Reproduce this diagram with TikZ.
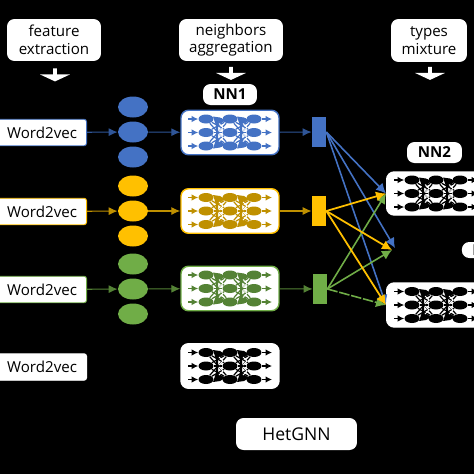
\documentclass[tikz,border=0pt]{standalone}
\usepackage{fontspec}
\setmainfont{Open Sans}
\usepackage{tikz}
\usetikzlibrary{arrows.meta,shapes.arrows,shapes.geometric}

\definecolor{hetblue}{HTML}{4472C4}
\definecolor{hetyellow}{HTML}{FFC000}
\definecolor{hetgreen}{HTML}{70AD47}
\definecolor{darkblue}{HTML}{2F5597}
\definecolor{darkyellow}{HTML}{BF9000}
\definecolor{darkgreen}{HTML}{548235}

\tikzset{
    x=0.02cm, y=-0.02cm,
    textbox/.style={draw=none,fill=white,rounded corners=1.5mm,align=center,font=\fontsize{8.6}{10}\selectfont,inner sep=0pt},
    labelbox/.style={textbox,font=\fontsize{8.6}{10}\selectfont\bfseries},
    wordbox/.style={textbox,rounded corners=0.5mm,draw=#1,line width=0.5pt,minimum width=1.9cm,minimum height=0.53cm,anchor=east},
    modbox/.style={draw=#1,fill=white,rounded corners=1.5mm,line width=0.8pt,minimum width=1.96cm,minimum height=0.89cm,inner sep=0pt},
    embed/.style={draw=none,fill=#1,ellipse,minimum width=0.6cm,minimum height=0.42cm,inner sep=0pt},
    gather/.style={draw=none,fill=#1,minimum width=0.28cm,minimum height=0.6cm,inner sep=0pt},
    downarrow/.style={draw=none,fill=white,single arrow,shape border rotate=270,minimum width=0.6cm,minimum height=0.26cm,single arrow head extend=0.18cm,single arrow tip angle=130,inner sep=0.5pt},
    cell/.style={draw=none,fill=#1,ellipse,minimum width=0.3cm,minimum height=0.18cm,inner sep=0pt},
    pics/nnmodule/.style={code={
        \foreach \r/\dy in {a/-13.5,b/0,c/13.5}{
            \foreach \c/\dx in {1/-24,2/0,3/24}
                \node[cell=#1] (-\c\r) at (\dx,\dy) {};
            \coordinate (-in\r) at (-42,\dy);
            \coordinate (-out\r) at (42,\dy);
            \draw[-{Latex[length=1.3mm,width=1.3mm]},#1,line width=0.6pt] (-in\r) -- (-1\r);
            \draw[-{Latex[length=1.3mm,width=1.3mm]},#1,line width=0.6pt] (-3\r) -- (-out\r);
        }
        % fan between the cells
        \foreach \c/\n in {1/2,2/3}
            \foreach \r in {a,b,c}
                \foreach \s in {a,b,c}
                    \draw[#1,line width=0.7pt] (-\c\r) -- (-\n\s);
        \foreach \g in {-12,12}{
            \fill[#1] (\g-5,-16) -- (\g+2,-15) -- (\g+7,-12) -- (\g,-7) -- (\g,7) -- (\g+7,12) -- (\g+2,15) -- (\g-5,16) -- (\g-2,7) -- (\g-2,-7) -- cycle;
            \draw[white,line width=0.45pt] (\g+1,-9) -- (\g+5,-5) -- (\g+1,-1) (\g+1,1) -- (\g+5,5) -- (\g+1,9);
        }
    }}
}

\begin{document}
\begin{tikzpicture}
    \useasboundingbox (0,0) rectangle (474,474);
    \fill[black] (0,0) rectangle (474,474);
    \clip (0,0) rectangle (474,474);

    % Headers
    \node[textbox,minimum width=1.88cm,minimum height=0.84cm] (feature) at (54,40) {feature\\extraction};
    \node[textbox,minimum width=2.08cm,minimum height=0.84cm] (neighbors) at (231,40) {neighbors\\aggregation};
    \node[textbox,minimum width=1.52cm,minimum height=0.86cm] (types) at (429,40.5) {types\\mixture};
    \node[downarrow] (arrowf) at (55,74.5) {};
    \node[downarrow] (arrown) at (231,73) {};
    \node[downarrow] (arrowt) at (430,73) {};

    % Word2vec inputs
    \node[wordbox=hetblue] (w1) at (87,132.5) {\hspace{0.12cm}Word2vec};
    \node[wordbox=hetyellow] (w2) at (87,211.5) {\hspace{0.12cm}Word2vec};
    \node[wordbox=hetgreen] (w3) at (87,289.5) {\hspace{0.12cm}Word2vec};
    \node[wordbox=white] (w4) at (87,367) {\hspace{0.12cm}Word2vec};

    % Embeddings
    \foreach \i/\yy/\col in {1/107/hetblue,2/132/hetblue,3/157/hetblue,4/186/hetyellow,5/211/hetyellow,6/236/hetyellow,7/264/hetgreen,8/289/hetgreen,9/314/hetgreen}
        \node[embed=\col] (e\i) at (133,\yy) {};

    % Neighbor modules
    \node[modbox=hetblue] (nb) at (230,132.5) {};
    \node[modbox=hetyellow] (ny) at (230,211) {};
    \node[modbox=hetgreen] (ng) at (230,288.5) {};
    \node[modbox=white] (nk) at (230,366) {};
    \pic (pb) at (nb) {nnmodule=hetblue};
    \pic (py) at (ny) {nnmodule=darkyellow};
    \pic (pg) at (ng) {nnmodule=darkgreen};
    \pic (pk) at (nk) {nnmodule=black};
    \node[labelbox,minimum width=1.08cm,minimum height=0.42cm] (nn1) at (230,94.5) {NN1};

    % Gathered vectors
    \node[gather=hetblue] (gb) at (319,132) {};
    \node[gather=hetyellow] (gy) at (319,211) {};
    \node[gather=hetgreen] (gg) at (320,289) {};

    % Horizontal connectors
    \foreach \from/\to/\col in {w1/e2/darkblue,w2/e5/darkyellow,w3/e8/darkgreen,e2/nb/darkblue,e5/ny/darkyellow,e8/ng/darkgreen,nb/gb/darkblue,ny/gy/darkyellow,ng/gg/darkgreen}
        \draw[-{Latex[length=1.8mm,width=1.6mm]},\col,line width=0.6pt] (\from) -- (\to);

    % Mixture modules
    \node[labelbox,minimum width=1.1cm,minimum height=0.42cm] (nn2) at (434.5,152.5) {NN2};
    \node[modbox=white,minimum width=2.2cm,minimum height=0.86cm,anchor=west] (m1) at (386,193.5) {};
    \node[modbox=white,minimum width=2.2cm,minimum height=0.88cm,anchor=west] (m2) at (386,305) {};
    \pic (p1) at (436,193.5) {nnmodule=black};
    \pic (p2) at (436,305) {nnmodule=black};
    \node[labelbox,text width=1cm,align=left,minimum height=0.32cm,anchor=west] (dd) at (461.5,250) {\hspace*{0.21cm}D};
    \coordinate (mix) at (395,248);
    \coordinate (mid) at (392,250);

    % Fan into the mixture
    \foreach \to in {m1.west,mix,m2.west}
        \draw[-{Latex[length=2mm,width=2mm]},hetblue,line width=0.9pt] (gb.east) -- (\to);
    \draw[-{Latex[length=2mm,width=2mm]},hetgreen,line width=0.9pt] (gg.east) -- (m1.west);
    \draw[-{Latex[length=2mm,width=2mm]},hetgreen,line width=0.9pt] (gg.east) -- (mid);
    \draw[-{Latex[length=2mm,width=2mm]},hetgreen,line width=0.9pt,dash pattern=on 6pt off 1pt] (gg.east) -- (m2.west);
    \foreach \to in {m1.west,mid,m2.west}
        \draw[-{Latex[length=2mm,width=2mm]},hetyellow,line width=1pt] (gy.east) -- (\to);

    % Model name
    \node[textbox,font=\fontsize{10}{12}\selectfont,minimum width=2.42cm,minimum height=0.64cm] (het) at (296.5,434) {HetGNN};
\end{tikzpicture}
\end{document}
